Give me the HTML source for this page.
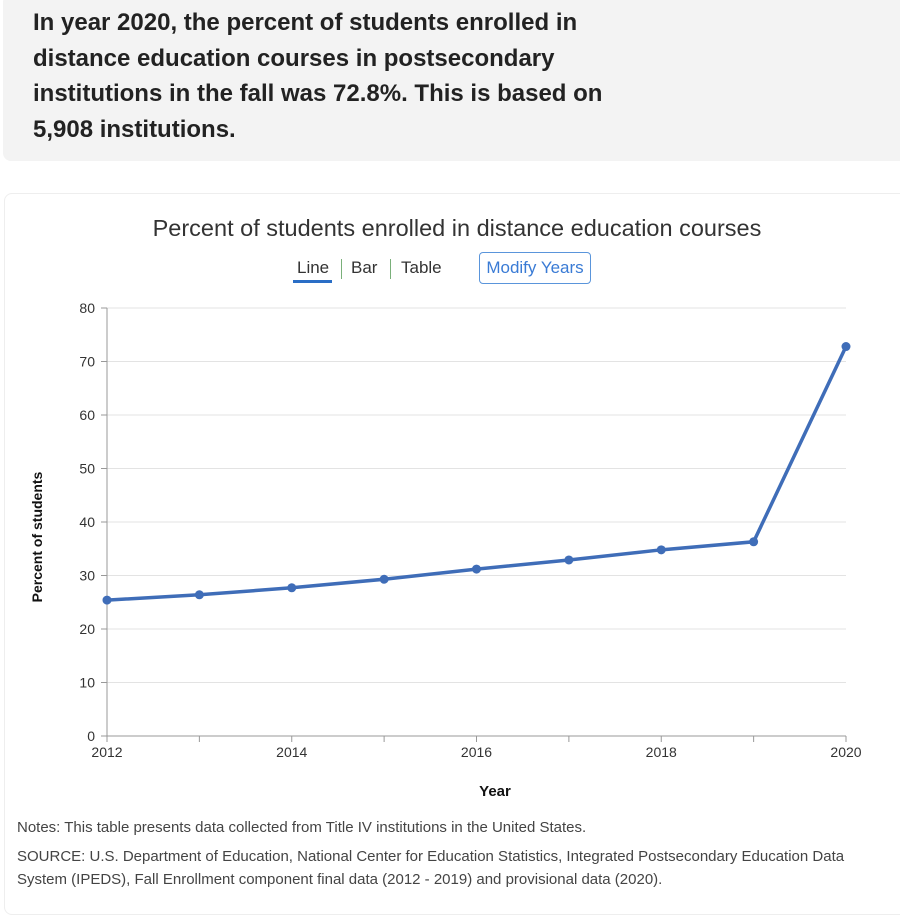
<!DOCTYPE html>
<html><head><meta charset="utf-8"><style>
body{margin:0;width:900px;height:900px;background:#fff;font-family:"Liberation Sans",sans-serif;position:relative;overflow:hidden}
.hdr{position:absolute;left:3px;top:-6px;width:905px;height:167px;background:#f3f3f3;border-radius:8px}
.hdr p{margin:0;position:absolute;left:30px;top:11px;width:630px;font-size:24px;font-weight:bold;line-height:35.5px;color:#222}
.card{position:absolute;left:4px;top:193px;width:910px;height:720px;border:1px solid #eee;border-radius:8px}
.t{position:absolute;color:#333}
</style></head><body>
<div class="hdr"><p>In year 2020, the percent of students enrolled in distance education courses in postsecondary institutions in the fall was 72.8%. This is based on 5,908 institutions.</p></div>
<div class="card"></div>
<div class="t" style="left:0;width:914px;text-align:center;top:215px;font-size:23.5px">Percent of students enrolled in distance education courses</div>
<div class="t" style="left:297px;top:258px;font-size:17px">Line</div>
<div style="position:absolute;left:293px;top:280px;width:39px;height:3px;background:#2a6ec6"></div>
<div style="position:absolute;left:341px;top:259px;width:1px;height:20px;background:#7ab07a"></div>
<div class="t" style="left:351px;top:258px;font-size:17px">Bar</div>
<div style="position:absolute;left:390px;top:259px;width:1px;height:20px;background:#7ab07a"></div>
<div class="t" style="left:401px;top:258px;font-size:17px">Table</div>
<div style="position:absolute;left:479px;top:252px;width:110px;height:30px;border:1px solid #5a95db;border-radius:4px;color:#3a7bd5;font-size:17px;line-height:30px;text-align:center">Modify Years</div>
<svg id="c" width="900" height="900" style="position:absolute;left:0;top:0"></svg>
<div class="t" style="left:17px;top:819px;font-size:15px;color:#444">Notes: This table presents data collected from Title IV institutions in the United States.</div>
<div class="t" style="left:17px;top:845px;font-size:15px;line-height:23px;color:#444;width:865px">SOURCE: U.S. Department of Education, National Center for Education Statistics, Integrated Postsecondary Education Data System (IPEDS), Fall Enrollment component final data (2012 - 2019) and provisional data (2020).</div>
<script>
const years=[2012,2013,2014,2015,2016,2017,2018,2019,2020];
const values=[25.4,26.4,27.7,29.3,31.2,32.9,34.8,36.3,72.8];
const yTicks=[0,10,20,30,40,50,60,70,80];
const xLabels=[2012,2014,2016,2018,2020];
const NS="http://www.w3.org/2000/svg",svg=document.getElementById('c');
const x=v=>107+(v-2012)*(846-107)/8, y=v=>736-v*(736-308)/80;
function mk(t,a,txt){const e=document.createElementNS(NS,t);for(const k in a)e.setAttribute(k,a[k]);if(txt!=null)e.textContent=txt;svg.appendChild(e);return e;}
yTicks.forEach(v=>{
const g=mk('line',{x1:107,x2:846,y1:y(v),y2:y(v),stroke:v?'#e3e3e3':'#999','stroke-width':1});


mk('line',{x1:101,x2:107,y1:y(v),y2:y(v),stroke:'#999'});
const t=mk('text',{x:95,y:y(v)+5,'text-anchor':'end','font-size':14,fill:'#333','font-family':'Liberation Sans'},v);


});
mk('line',{x1:107,x2:107,y1:308,y2:736,stroke:'#999'});
years.forEach(v=>mk('line',{x1:x(v),x2:x(v),y1:736,y2:742,stroke:'#999'}));
xLabels.forEach(v=>{
const t=mk('text',{x:x(v),y:757,'text-anchor':'middle','font-size':14,fill:'#333','font-family':'Liberation Sans'},v);


});
const xt=mk('text',{x:495,y:796,'text-anchor':'middle','font-size':15,'font-weight':'bold',fill:'#111','font-family':'Liberation Sans'},'Year');


const yt=mk('text',{x:0,y:0,transform:'translate(42,537) rotate(-90)','text-anchor':'middle','font-size':14,'font-weight':'bold',fill:'#111','font-family':'Liberation Sans'},'Percent of students');


const ln=mk('polyline',{points:years.map((v,i)=>x(v)+','+y(values[i])).join(' '),fill:'none',stroke:'#3f6db8','stroke-width':3.5});


years.forEach((v,i)=>{
const c=mk('circle',{cx:x(v),cy:y(values[i]),r:4.5,fill:'#3f6db8'});


});
</script>
</body></html>
